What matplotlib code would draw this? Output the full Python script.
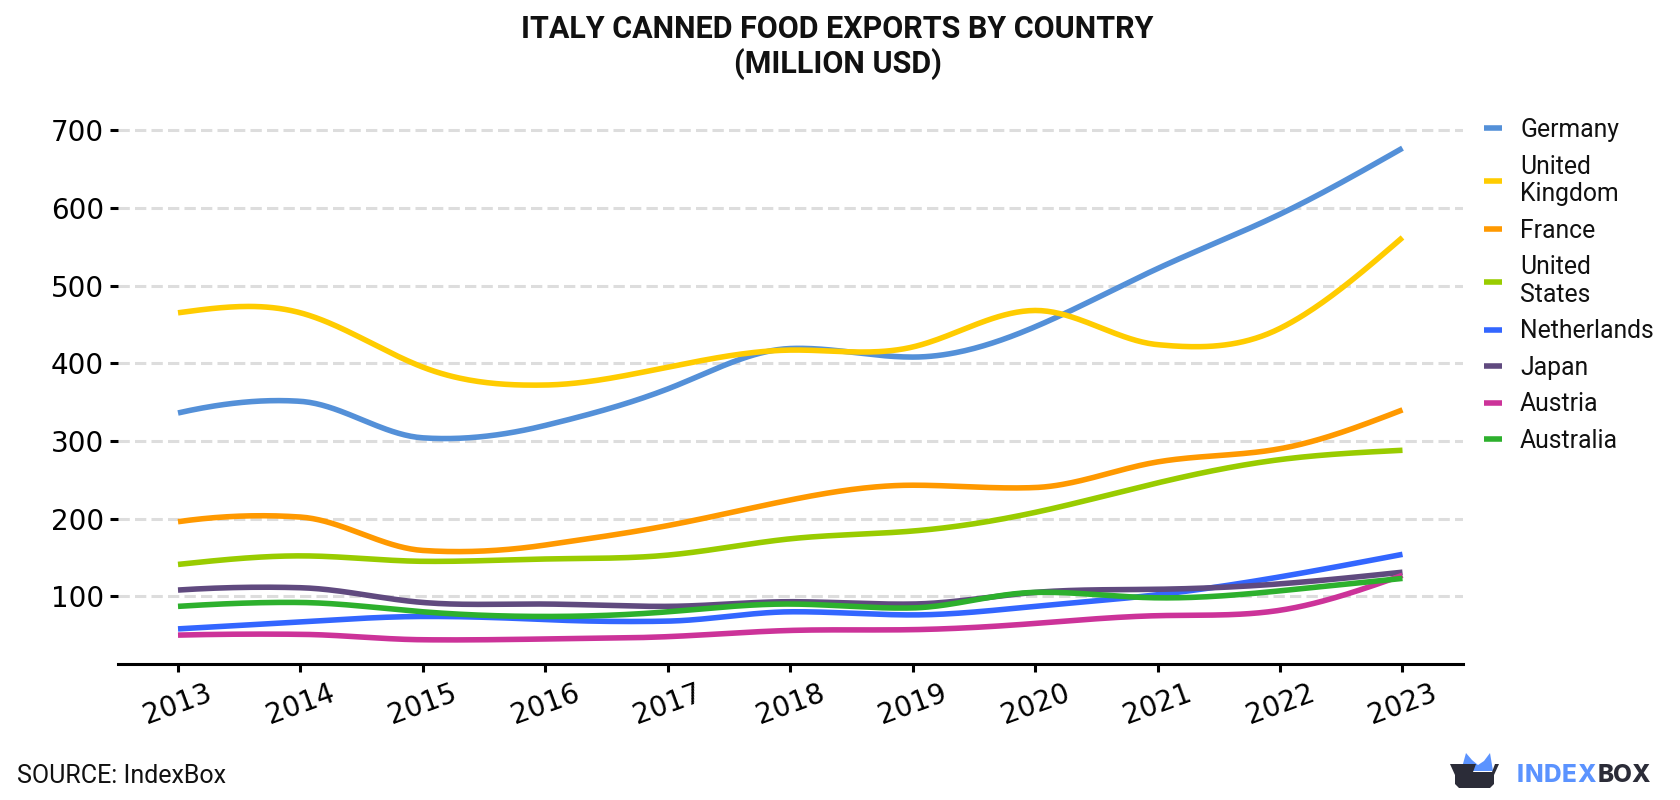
import numpy as np
import matplotlib
matplotlib.use("Agg")
import matplotlib.pyplot as plt
from matplotlib.patches import Polygon

years = [2013, 2014, 2015, 2016, 2017, 2018, 2019, 2020, 2021, 2022, 2023]
germany = [336, 351, 304, 320, 367, 419, 408, 447, 522, 592, 677]
united_kingdom = [465, 465, 395, 372, 395, 417, 421, 468, 424, 445, 562]
france = [196, 202, 159, 166, 191, 224, 243, 240, 273, 290, 340]
united_states = [141, 152, 145, 148, 153, 174, 184, 208, 246, 276, 288]
netherlands = [58, 67, 74, 70, 68, 80, 76, 87, 102, 125, 154]
japan = [108, 111, 92, 90, 87, 93, 90, 105, 109, 116, 131]
austria = [50, 51, 44, 45, 48, 56, 57, 65, 75, 82, 127]
australia = [87, 92, 80, 74, 80, 90, 85, 105, 98, 107, 123]

series_names = ["Germany", "United\nKingdom", "France", "United\nStates",
                "Netherlands", "Japan", "Austria", "Australia"]
series_values = [germany, united_kingdom, france, united_states,
                 netherlands, japan, austria, australia]
series_colors = ["#5490D8", "#FFCC00", "#FF9900", "#99CC00",
                 "#3366FF", "#604A7F", "#CC3399", "#2DB02D"]
y_ticks = [100, 200, 300, 400, 500, 600, 700]


def smooth_curve(x, y, per_segment=40, damping=0.4):
    """Join yearly values with Hermite segments; tangents come from a natural
    cubic spline and are flattened at turning points to limit overshoot."""
    x = np.asarray(x, float)
    y = np.asarray(y, float)
    n = len(x)
    h = np.diff(x)
    d = np.diff(y) / h
    A = np.zeros((n, n))
    b = np.zeros(n)
    A[0, 0] = A[-1, -1] = 1
    for i in range(1, n - 1):
        A[i, i - 1] = h[i - 1]
        A[i, i] = 2 * (h[i - 1] + h[i])
        A[i, i + 1] = h[i]
        b[i] = 6 * (d[i] - d[i - 1])
    m = np.linalg.solve(A, b)
    tangent = np.zeros(n)
    tangent[:-1] = d - h * (2 * m[:-1] + m[1:]) / 6
    tangent[-1] = d[-1] + h[-1] * (m[-2] + 2 * m[-1]) / 6
    for i in range(1, n - 1):
        if d[i - 1] * d[i] < 0:
            tangent[i] *= damping
    xs, ys = [], []
    for i in range(n - 1):
        t = np.linspace(0, 1, per_segment, endpoint=False)
        ys.append((2 * t**3 - 3 * t**2 + 1) * y[i]
                  + (t**3 - 2 * t**2 + t) * h[i] * tangent[i]
                  + (-2 * t**3 + 3 * t**2) * y[i + 1]
                  + (t**3 - t**2) * h[i] * tangent[i + 1])
        xs.append(x[i] + t * h[i])
    xs.append([x[-1]])
    ys.append([y[-1]])
    return np.concatenate(xs), np.concatenate(ys)


W, H = 1680, 800
plt.rcParams["font.family"] = ["Roboto", "DejaVu Sans"]
fig = plt.figure(figsize=(W / 100, H / 100), dpi=100, facecolor="white")
ax = fig.add_axes([118 / W, 1 - 664.3 / H, (1462.5 - 118) / W, (664.3 - 115) / H])

for name, values, color in zip(series_names, series_values, series_colors):
    sx, sy = smooth_curve(years, values)
    ax.plot(sx, sy, color=color, lw=4.0, label=name,
            solid_capstyle="butt", solid_joinstyle="round", zorder=3)

ax.set_xlim(2012.51, 2023.49)
ax.set_ylim(12.4, 719.7)
ax.set_xticks(years)
ax.set_yticks(y_ticks)
ax.grid(axis="y", color="#DDDDDD", lw=2.2, linestyle=(0, (3.7, 1.7)), zorder=0)
ax.set_axisbelow(True)

for side in ("left", "top", "right"):
    ax.spines[side].set_visible(False)
ax.spines["bottom"].set_linewidth(2.2)
ax.tick_params(axis="x", length=6, width=2.2, labelsize=20, pad=5)
ax.tick_params(axis="y", length=6, width=2.2, labelsize=20, pad=4)
for lab in ax.get_xticklabels():
    lab.set_rotation(20)
    lab.set_family("DejaVu Sans")
for lab in ax.get_yticklabels():
    lab.set_family("DejaVu Sans")

leg = ax.legend(loc="upper left", bbox_to_anchor=(1484 / W, 1 - 118 / H),
                bbox_transform=fig.transFigure, frameon=False, fontsize=17.8,
                handlelength=0.73, handletextpad=0.73, labelspacing=0.51,
                borderpad=0, borderaxespad=0, labelcolor="#111111")
for t in leg.get_texts():
    t.set_linespacing(1.18)

fig.text(0.4985, 1 - 29 / H, "ITALY CANNED FOOD EXPORTS BY COUNTRY", ha="center",
         va="center", fontsize=22, fontweight="bold", color="#111111")
fig.text(0.4985, 1 - 64 / H, "(MILLION USD)", ha="center",
         va="center", fontsize=22, fontweight="bold", color="#111111")
fig.text(17 / W, 1 - 776 / H, "SOURCE: IndexBox", ha="left", va="center",
         fontsize=18, color="#111111")


# Brand mark, placed in pixel coordinates of the figure
def px(points):
    return [(x / W, 1 - y / H) for x, y in points]


blue, dark = "#5B93FF", "#2B2C38"
fig.add_artist(Polygon(px([(1461, 771), (1466, 753), (1472, 760), (1478, 765),
                           (1484, 761), (1490, 753), (1493, 771), (1474, 771)]),
                       closed=True, transform=fig.transFigure, fc=blue, ec="none"))
fig.add_artist(Polygon(px([(1450, 764), (1476, 764), (1473, 772), (1492, 772),
                           (1495, 764), (1499, 764), (1494, 775), (1494, 784),
                           (1490, 788), (1459, 788), (1455, 784), (1455, 775)]),
                       closed=True, transform=fig.transFigure, fc=dark, ec="none"))

# Wordmark letters are set one by one for the tracking
renderer = fig.canvas.get_renderer()
for word, color, cursor, tracking in (("INDEX", blue, 1517.0, 0.6), ("BOX", dark, 1598.0, -0.8)):
    for letter in word:
        t = fig.text(cursor / W, 1 - 775 / H, letter, ha="left", va="center",
                     fontsize=17.5, fontweight=800, color=color, family="Inter")
        cursor += t.get_window_extent(renderer).width + tracking

fig.savefig("out.png", dpi=100, facecolor="white")
